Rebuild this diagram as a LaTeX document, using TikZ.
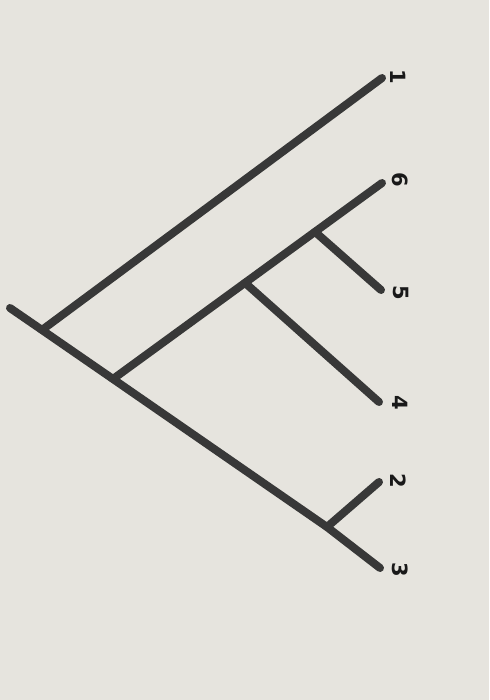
\documentclass[tikz,border=0pt]{standalone}
\usepackage{fontspec}
\setmainfont{DejaVu Sans}
\usetikzlibrary{calc}
\begin{document}
\begin{tikzpicture}[x=1pt,y=-1pt,
  branch/.style={draw=black!78,line width=8pt,line cap=round,line join=round},
  leaf/.style={font=\bfseries\fontsize{21}{21}\selectfont,text=black!90,rotate=-90,inner sep=0pt}]
\fill[fill={rgb,255:red,230;green,228;blue,222}] (0,0) rectangle (489,700);
\useasboundingbox (0,0) rectangle (489,700);
% internal nodes
\coordinate (r) at (10,308);
\coordinate (n1) at (42,330);
\coordinate (n2) at (113,379);
\coordinate (e6) at (382,183);
\coordinate (n3) at ($(n2)!0.4907!(e6)$);
\coordinate (n4) at ($(n2)!0.7509!(e6)$);
\coordinate (n5) at (327,527);
% leaf ends
\coordinate (e1) at (382,78);
\coordinate (e5) at (381,290);
\coordinate (e4) at (379,402);
\coordinate (e2) at (379,482);
\coordinate (e3) at (380,568);
% labels
\node[leaf] (l1) at (398,77) {1};
\node[leaf] (l6) at (400,180) {6};
\node[leaf] (l5) at (401,293) {5};
\node[leaf] (l4) at (400,403) {4};
\node[leaf] (l2) at (398,481) {2};
\node[leaf] (l3) at (400,570) {3};
% branches
\draw[branch] (r) -- (n1) -- (n2) -- (n5) -- (e3);
\draw[branch] (n1) -- (e1);
\draw[branch] (n2) -- (e6);
\draw[branch] (n4) -- (e5);
\draw[branch] (n3) -- (e4);
\draw[branch] (n5) -- (e2);
\end{tikzpicture}
\end{document}
